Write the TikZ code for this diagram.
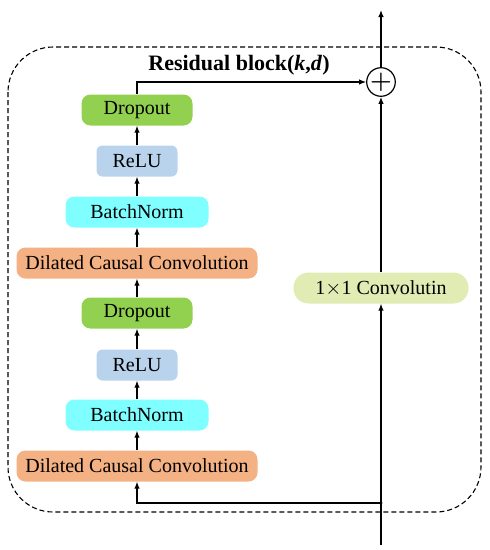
\documentclass[tikz,border=0pt]{standalone}
\usepackage{fontspec}
\setmainfont{Liberation Serif}
\usetikzlibrary{arrows.meta}

\definecolor{dropgreen}{HTML}{92D050}
\definecolor{relublue}{HTML}{BAD3EC}
\definecolor{normcyan}{HTML}{7FFFFF}
\definecolor{convsalmon}{HTML}{F4B183}
\definecolor{skipgreen}{HTML}{E0ECB3}

\tikzset{
    blk/.style={rounded corners=9pt, minimum height=31pt, inner sep=0pt,
                font=\fontsize{20}{22}\selectfont},
    flow/.style={-{Latex[length=7pt,width=5.5pt]}, line width=1.2pt},
}

\begin{document}
\begin{tikzpicture}[x=1pt,y=-1pt]
    \useasboundingbox (0,0) rectangle (490,550);
    \draw[dash pattern=on 5pt off 3pt, line width=1.1pt, rounded corners=45pt] (8,47) rectangle (481,512);

    % left branch, bottom to top
    \node[blk, fill=convsalmon, minimum width=241pt] (conv1) at (137,466) {Dilated Causal Convolution};
    \node[blk, fill=normcyan,   minimum width=143pt] (norm1) at (137,415) {BatchNorm};
    \node[blk, fill=relublue,   minimum width=81pt, rounded corners=6pt] (relu1) at (137,365) {ReLU};
    \node[blk, fill=dropgreen,  minimum width=111pt] (drop1) at (137,313) {Dropout};
    \node[blk, fill=convsalmon, minimum width=241pt] (conv2) at (137,263) {Dilated Causal Convolution};
    \node[blk, fill=normcyan,   minimum width=143pt] (norm2) at (137,212) {BatchNorm};
    \node[blk, fill=relublue,   minimum width=81pt, rounded corners=6pt] (relu2) at (137,161) {ReLU};
    \node[blk, fill=dropgreen,  minimum width=111pt] (drop2) at (137,110) {Dropout};

    % skip branch
    \node[blk, fill=skipgreen, minimum width=175pt, rounded corners=15pt] (skip) at (381,288) {1$\times$1 Convolutin};
    \node[circle, draw, line width=1.2pt, minimum size=26pt, inner sep=0pt,
          font=\boldmath\fontsize{26}{26}\selectfont] (add) at (381,82) {$+$};
    \node[font=\bfseries\fontsize{22}{24}\selectfont] (title) at (239,65) {Residual block(\textit{k},\textit{d})};

    \coordinate (in)    at (381,545);
    \coordinate (split) at (381,503);
    \coordinate (out)   at (381,10);

    \draw[line width=1.2pt] (in) -- (split);
    \fill (split) circle (1.6pt);
    \draw[flow] (split) -| (conv1.south);
    \draw[flow] (split) -- (skip.south);
    \draw[flow] (skip.north) -- (add.south);
    \draw[flow] (conv1) -- (norm1);
    \draw[flow] (norm1) -- (relu1);
    \draw[flow] (relu1) -- (drop1);
    \draw[flow] (drop1) -- (conv2);
    \draw[flow] (conv2) -- (norm2);
    \draw[flow] (norm2) -- (relu2);
    \draw[flow] (relu2) -- (drop2);
    \draw[flow] (drop2.north) |- (add.west);
    \draw[flow] (add.north) -- (out);

\end{tikzpicture}
\end{document}
